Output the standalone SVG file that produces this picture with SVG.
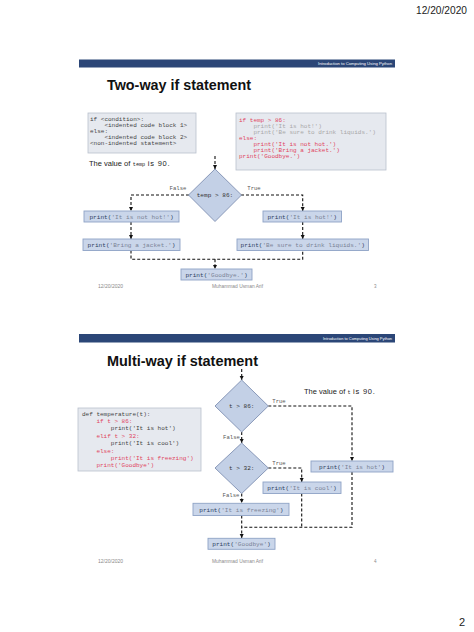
<svg xmlns="http://www.w3.org/2000/svg" width="474" height="632" viewBox="0 0 474 632">
<style>
.bar{fill:#2b4677}
.bartxt{font-family:"Liberation Sans",Arial,sans-serif;font-size:4px;fill:#ffffff;text-anchor:end}
.title{font-family:"Liberation Sans",Arial,sans-serif;font-size:15px;font-weight:bold;fill:#111111}
.foot{font-family:"Liberation Sans",Arial,sans-serif;font-size:4.5px;fill:#8a8a8a}
.page{font-family:"Liberation Sans",Arial,sans-serif;fill:#222222}
.codebox{fill:#e6e9ef;stroke:#b9c1cd;stroke-width:0.8}
.code{font-family:"Liberation Mono","Courier New",monospace;font-size:6px;fill:#444444;white-space:pre}
.red{fill:#e0445e}
.gray{fill:#a8a8a8}
.val{font-family:"Liberation Sans",Arial,sans-serif;font-size:7.5px;fill:#222222}
.valm{font-family:"Liberation Mono",monospace;font-size:5.2px}
.sp{letter-spacing:0.8px}
.box{fill:#cad6ea;stroke:#8ea3c6;stroke-width:0.9}
.dia{fill:#c3d0e6;stroke:#7f90b2;stroke-width:0.9}
.bt{font-family:"Liberation Mono","Courier New",monospace;font-size:6.1px;fill:#2d3e5e;text-anchor:middle;white-space:pre}
.s{fill:#7a8396}
.dt{font-family:"Liberation Mono","Courier New",monospace;font-size:6.1px;fill:#333333;text-anchor:middle}
.lbl{font-family:"Liberation Mono","Courier New",monospace;font-size:5.6px;fill:#555555;text-anchor:middle}
.con{fill:none;stroke:#111111;stroke-width:1.1;stroke-dasharray:3 2}
</style>
<defs>
<marker id="ah" viewBox="0 0 6 6" refX="6" refY="3" markerWidth="4.5" markerHeight="4.5" orient="auto" markerUnits="userSpaceOnUse">
<path d="M0,0 L6,3 L0,6 z" fill="#111111"/>
</marker>
</defs>
<rect width="474" height="632" fill="#ffffff"/>
<text class="page" x="467" y="14" font-size="10.5" text-anchor="end" textLength="51" lengthAdjust="spacingAndGlyphs">12/20/2020</text>
<text class="page" x="465" y="626" font-size="11" text-anchor="end">2</text>

<!-- Slide 1 -->
<g id="slide1-header">
<rect class="bar" x="79" y="59.5" width="316" height="8"/>
<text class="bartxt" x="392" y="65.3" textLength="74" lengthAdjust="spacingAndGlyphs">Introduction to Computing Using Python</text>
<text class="title" x="107" y="89.5" textLength="144" lengthAdjust="spacingAndGlyphs">Two-way if statement</text>
</g>
<g id="code-generic">
<rect class="codebox" x="88" y="113" width="108" height="40"/>
<text class="code" x="90" y="121">if &lt;condition&gt;:</text>
<text class="code" x="90" y="127">    &lt;indented code block 1&gt;</text>
<text class="code" x="90" y="133">else:</text>
<text class="code" x="90" y="139">    &lt;indented code block 2&gt;</text>
<text class="code" x="90" y="145">&lt;non-indented statement&gt;</text>
</g>
<g id="code-temp">
<rect class="codebox" x="236" y="113" width="150" height="57"/>
<text class="code red" x="239" y="121.5">if temp &gt; 86:</text>
<text class="code gray" x="239" y="127.7">    print('It is hot!')</text>
<text class="code gray" x="239" y="133.8">    print('Be sure to drink liquids.')</text>
<text class="code red" x="239" y="139.9">else:</text>
<text class="code red" x="239" y="146.1">    print('It is not hot.')</text>
<text class="code red" x="239" y="152.2">    print('Bring a jacket.')</text>
<text class="code red" x="239" y="158.4">print('Goodbye.')</text>
</g>
<g id="value1">
<text class="val" x="89" y="166">The value of<tspan class="valm" dx="2.5">temp</tspan><tspan class="sp" dx="2.5">is 90.</tspan></text>
</g>

<g id="connectors1">
<path class="con" d="M215,156 V169" marker-end="url(#ah)"/>
<path class="con" d="M189,195 H131 V211" marker-end="url(#ah)"/>
<path class="con" d="M241,195 H302.7 V211" marker-end="url(#ah)"/>
<path class="con" d="M131,222 V239" marker-end="url(#ah)"/>
<path class="con" d="M302.7,222 V239" marker-end="url(#ah)"/>
<path class="con" d="M131,250.5 V259.3 H302.7 V250.5"/>
<path class="con" d="M215,259.3 V269" marker-end="url(#ah)"/>
</g>
<g id="dia-temp">
<polygon class="dia" points="215,169 241.5,195 215,221.5 188.5,195"/>
<text class="dt" x="215" y="197">temp &gt; 86:</text>
</g>
<text class="lbl" x="178" y="189.5">False</text>
<text class="lbl" x="254" y="189.5">True</text>
<g id="b-nothot">
<rect class="box" x="84" y="211" width="95" height="11"/>
<text class="bt" x="131.5" y="218.6">print(<tspan class="s">'It is not hot!'</tspan>)</text>
</g>
<g id="b-hot1">
<rect class="box" x="263" y="211" width="78.5" height="11"/>
<text class="bt" x="302.2" y="218.6">print(<tspan class="s">'It is hot!'</tspan>)</text>
</g>
<g id="b-jacket">
<rect class="box" x="83" y="239" width="97" height="11.5"/>
<text class="bt" x="131.5" y="246.8">print(<tspan class="s">'Bring a jacket.'</tspan>)</text>
</g>
<g id="b-liquids">
<rect class="box" x="237" y="239" width="131.5" height="11.5"/>
<text class="bt" x="302.7" y="246.8">print(<tspan class="s">'Be sure to drink liquids.'</tspan>)</text>
</g>
<g id="b-goodbye1">
<rect class="box" x="181" y="269" width="71" height="11"/>
<text class="bt" x="216.5" y="276.6">print(<tspan class="s">'Goodbye.'</tspan>)</text>
</g>
<g id="footer1">
<text class="foot" x="98" y="288" textLength="25" lengthAdjust="spacingAndGlyphs">12/20/2020</text>
<text class="foot" x="212" y="288" textLength="51" lengthAdjust="spacingAndGlyphs">Muhammad Usman Arif</text>
<text class="foot" x="374" y="288">3</text>
</g>

<!-- Slide 2 -->
<g id="slide2-header">
<rect class="bar" x="79" y="334" width="316" height="8.5"/>
<text class="bartxt" x="392" y="340" textLength="69" lengthAdjust="spacingAndGlyphs">Introduction to Computing Using Python</text>
<text class="title" x="107" y="366" textLength="151" lengthAdjust="spacingAndGlyphs">Multi-way if statement</text>
</g>
<g id="value2">
<text class="val" x="304" y="394">The value of<tspan class="valm" dx="2.3">t</tspan><tspan class="sp" dx="2.3">is 90.</tspan></text>
</g>
<g id="code-temperature">
<rect class="codebox" x="78" y="408" width="123" height="63"/>
<text class="code" x="82" y="415.5">def temperature(t):</text>
<text class="code red" x="82" y="423">    if t &gt; 86:</text>
<text class="code" x="82" y="430.3">        print('It is hot')</text>
<text class="code red" x="82" y="437.7">    elif t &gt; 32:</text>
<text class="code" x="82" y="445">        print('It is cool')</text>
<text class="code red" x="82" y="452.5">    else:</text>
<text class="code red" x="82" y="460">        print('It is freezing')</text>
<text class="code red" x="82" y="467">    print('Goodbye')</text>
</g>
<g id="connectors2">
<path class="con" d="M241.7,369 V380" marker-end="url(#ah)"/>
<path class="con" d="M268.3,406 H352 V461" marker-end="url(#ah)"/>
<path class="con" d="M241.7,432 V443" marker-end="url(#ah)"/>
<path class="con" d="M268.3,468 H301.7 V482" marker-end="url(#ah)"/>
<path class="con" d="M241.7,493.5 V503" marker-end="url(#ah)"/>
<path class="con" d="M241.7,515.5 V538" marker-end="url(#ah)"/>
<path class="con" d="M301.7,493.5 V527.3"/>
<path class="con" d="M352,472 V527.3 H241.7"/>
</g>
<g id="dia-86">
<polygon class="dia" points="241.7,380 268.3,406 241.7,432 215,406"/>
<text class="dt" x="241.7" y="408">t &gt; 86:</text>
</g>
<g id="dia-32">
<polygon class="dia" points="241.7,443 268.3,468 241.7,493.5 215,468"/>
<text class="dt" x="241.7" y="470">t &gt; 32:</text>
</g>
<text class="lbl" x="279" y="402.5">True</text>
<text class="lbl" x="231.5" y="438.5">False</text>
<text class="lbl" x="279" y="465">True</text>
<text class="lbl" x="231" y="497">False</text>
<g id="b-hot2">
<rect class="box" x="311" y="461" width="82" height="11"/>
<text class="bt" x="352" y="468.6">print(<tspan class="s">'It is hot'</tspan>)</text>
</g>
<g id="b-cool">
<rect class="box" x="263" y="482" width="78" height="11.5"/>
<text class="bt" x="302" y="489.8">print(<tspan class="s">'It is cool'</tspan>)</text>
</g>
<g id="b-freezing">
<rect class="box" x="193" y="503.3" width="96" height="12.2"/>
<text class="bt" x="241.3" y="511.5">print(<tspan class="s">'It is freezing'</tspan>)</text>
</g>
<g id="b-goodbye2">
<rect class="box" x="208" y="538.3" width="67" height="11"/>
<text class="bt" x="241.5" y="545.9">print(<tspan class="s">'Goodbye'</tspan>)</text>
</g>
<g id="footer2">
<text class="foot" x="98" y="562.5" textLength="25" lengthAdjust="spacingAndGlyphs">12/20/2020</text>
<text class="foot" x="212" y="562.5" textLength="51" lengthAdjust="spacingAndGlyphs">Muhammad Usman Arif</text>
<text class="foot" x="374" y="562.5">4</text>
</g>
</svg>
